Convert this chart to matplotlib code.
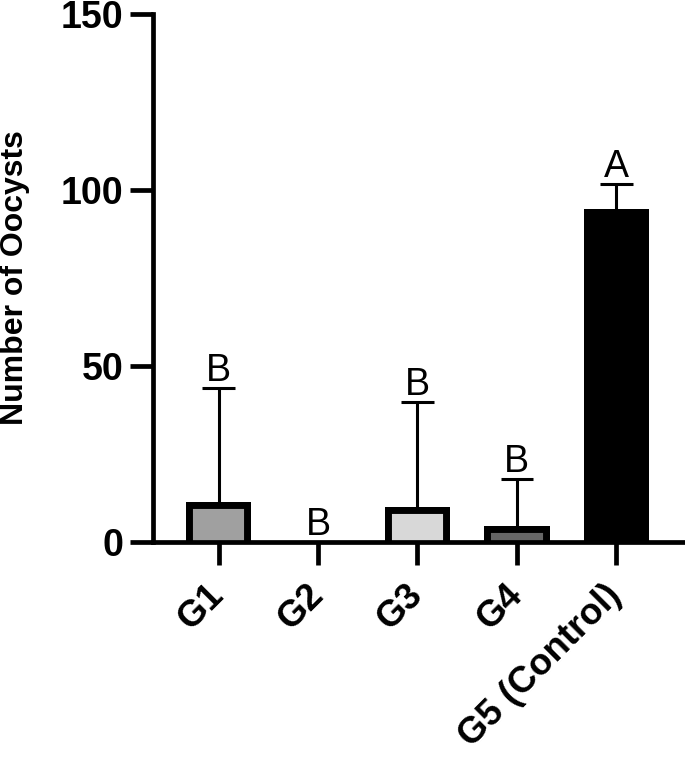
import numpy as np
import matplotlib
matplotlib.use("Agg")
import matplotlib.pyplot as plt

# data
groups = ["G1", "G2", "G3", "G4", "G5 (Control)"]
means = [11.3, 0.0, 9.9, 4.5, 94.7]
sds = [32.4, 0.0, 29.8, 13.4, 7.1]
letters = ["B", "B", "B", "B", "A"]
fills = ["#a0a0a0", "#ffffff", "#d8d8d8", "#666666", "#000000"]
yticks = [0, 50, 100, 150]

plt.rcParams['font.family'] = ['Liberation Sans', 'DejaVu Sans']

fig = plt.figure(figsize=(6.85, 7.6), dpi=100)
ax = fig.add_axes([0.2234, 0.2868, 0.7736, 0.6948])

x = np.arange(len(groups))
below = 3  # start bars below zero so the inner border has no bottom edge
bars = ax.bar(x, np.array(means) + below, bottom=-below, width=0.66,
              color=fills, edgecolor="black", linewidth=10)
for b in bars:
    # clip the stroke to the bar itself -> border drawn inside only
    b.set_clip_path(b.get_path(), b.get_transform())

tops = np.array(means) + np.array(sds)
ax.vlines(x, means, tops, color="black", lw=2.2, zorder=3)
ax.hlines(tops, x - 0.165, x + 0.165, color="black", lw=2.2, zorder=3)

for xi, t, lab in zip(x, tops, letters):
    ax.annotate(lab, (xi, t), xytext=(0, 5), textcoords="offset points",
                ha="center", va="baseline", fontsize=27)

ax.set_xlim(-0.66, 4.67)
ax.set_ylim(0, 150)
ax.set_yticks(yticks)
ax.set_xticks(x)
ax.set_xticklabels(groups, rotation=45, ha="right", va="center", rotation_mode="anchor",
                   fontsize=26.5, fontweight="bold")
ax.tick_params(axis="y", labelsize=27, width=3.4, length=16.5, pad=5)
ax.tick_params(axis="x", width=3.4, length=16.5, pad=18)
for lab in ax.get_yticklabels():
    lab.set_fontweight("bold")

ax.set_ylabel("Number of Oocysts", fontsize=23, fontweight="bold", labelpad=22)
ax.spines[["top", "right"]].set_visible(False)
ax.spines[["left", "bottom"]].set_linewidth(3.4)

fig.savefig("out.png", dpi=100)
